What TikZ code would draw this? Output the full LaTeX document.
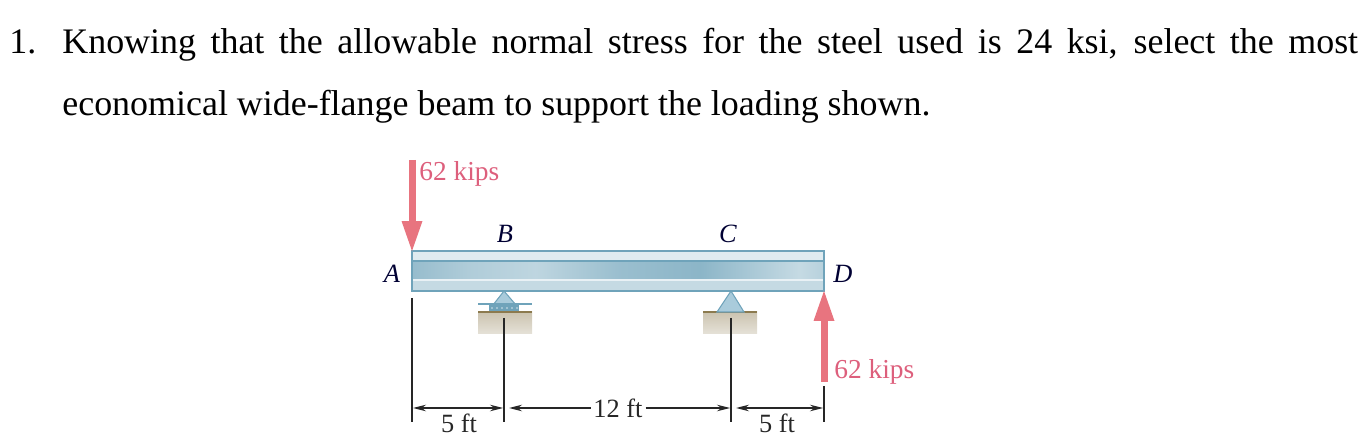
\documentclass[tikz,border=0pt]{standalone}
\usepackage{fontspec}
\setmainfont{Liberation Serif}
\usetikzlibrary{arrows.meta}
\definecolor{loadpink}{HTML}{E8747F}
\definecolor{loadtext}{HTML}{DD5F7C}
\definecolor{beamedge}{HTML}{6FA3BA}
\definecolor{supportblue}{HTML}{A9CBDB}
\definecolor{groundtop}{HTML}{8C7A4E}
\pgfdeclarehorizontalshading{beamweb}{100bp}{
  color(0bp)=(beamedge!75!white); color(22bp)=(beamedge!80!white);
  color(32bp)=(beamedge!55!white); color(40bp)=(beamedge!45!white); color(50bp)=(beamedge!70!white); color(60bp)=(beamedge!80!white);
  color(72bp)=(beamedge!40!white); color(85bp)=(beamedge!85!white); color(100bp)=(beamedge!60!white)}
\tikzset{
  load/.style={draw=loadpink,line width=0.14cm,-{Triangle[length=0.6cm,width=0.42cm,fill=loadpink,line width=0pt]}},
  loadlabel/.style={text=loadtext,font=\fontsize{15.6}{18}\selectfont,inner sep=0pt},
  pointlabel/.style={text=black!80!blue,font=\fontsize{15}{18}\selectfont\itshape,inner sep=0pt},
  dimlabel/.style={text=black!85,font=\fontsize{15}{18}\selectfont,inner sep=1.5pt},
  extline/.style={line width=0.9pt,black!85},
  dimtip/.style={line width=0.7pt,black!85},
  ground/.style={top color=groundtop!45!white,bottom color=groundtop!22!white},
  bodytext/.style={font=\fontsize{20.45}{35.15}\selectfont,inner sep=0pt}
}
\begin{document}
\begin{tikzpicture}[x=0.02cm,y=-0.02cm]
\useasboundingbox (0,0) rectangle (1364,448);
\node[bodytext,anchor=base west] (number) at (9,54) {1.};
\node[bodytext,anchor=north west,text width=25.92cm,align=justify] (problem) at (62,28)
 {Knowing that the allowable normal stress for the steel used is 24 ksi, select the most\linebreak economical wide-flange beam to support the loading shown.};

 % ground blocks
\fill[ground] (478,312) rectangle (532,334);
\draw[groundtop,line width=0.8pt] (478,312) -- (532,312);
\fill[ground] (703,312) rectangle (757,334);
\draw[groundtop,line width=0.8pt] (703,312) -- (757,312);

 % supports
\draw[beamedge,fill=supportblue,line width=0.6pt] (504,291) -- (493,305) -- (516,305) -- cycle;
\draw[beamedge,line width=1pt] (478,304) -- (532,304);
\fill[beamedge] (489,305) rectangle (519,311);
\foreach \x in {492,497,...,517} \fill[white!70!beamedge] (\x,308) circle (0.9);
\draw[beamedge,fill=supportblue,line width=0.6pt] (731,291) -- (717,312) -- (744,312) -- cycle;

 % beam
\shade[shading=beamweb] (412,261) rectangle (824,291);
\fill[beamedge!22!white] (412,251) rectangle (824,261);
\fill[white!85!beamedge] (412,279.5) rectangle (824,281.5);
\fill[beamedge!40!white] (412,281.5) rectangle (824,291);
\draw[beamedge,line width=0.8pt] (412,251) rectangle (824,291);
\draw[beamedge,line width=1pt] (412,261) -- (824,261);

\coordinate (A) at (412,251);
\coordinate (D) at (824,291);
\coordinate (Atop) at (412,160);
\coordinate (Dbot) at (824,382);
\draw[load] (Atop) -- (A);
\draw[load] (Dbot) -- (D);
\node[loadlabel,anchor=base west] (loadA) at (419,181) {62 kips};
\node[loadlabel,anchor=base west] (loadD) at (834,379) {62 kips};

\node[pointlabel] (labelA) at (392,274) {A};
\node[pointlabel] (labelB) at (505,234) {B};
\node[pointlabel] (labelC) at (728,234) {C};
\node[pointlabel] (labelD) at (843,274) {D};

 % dimensions
\coordinate (extA) at (412,298);
\coordinate (extB) at (504,318);
\coordinate (extC) at (731,318);
\coordinate (extD) at (824,386);
\coordinate (dimA) at (412,408);
\coordinate (dimB) at (504,408);
\coordinate (dimC) at (731,408);
\coordinate (dimD) at (824,408);
\draw[extline] (extA) -- (412,422);
\draw[extline] (extB) -- (504,422);
\draw[extline] (extC) -- (731,422);
\draw[extline] (extD) -- (824,422);
\node[dimlabel] (span) at (618,408) {12 ft};
\draw[dimtip,{Stealth[length=0.26cm,width=0.13cm]}-{Stealth[length=0.26cm,width=0.13cm]}] ([xshift=0.02cm]dimA) -- ([xshift=-0.02cm]dimB);
\draw[dimtip,{Stealth[length=0.26cm,width=0.13cm]}-] ([xshift=0.1cm]dimB) -- (span);
\draw[dimtip,-{Stealth[length=0.26cm,width=0.13cm]}] (span) -- ([xshift=-0.02cm]dimC);
\draw[dimtip,{Stealth[length=0.26cm,width=0.13cm]}-{Stealth[length=0.26cm,width=0.13cm]}] ([xshift=0.1cm]dimC) -- ([xshift=-0.02cm]dimD);
\node[dimlabel,anchor=base] (spanAB) at (459,433) {5 ft};
\node[dimlabel,anchor=base] (spanCD) at (777,433) {5 ft};
\end{tikzpicture}
\end{document}
